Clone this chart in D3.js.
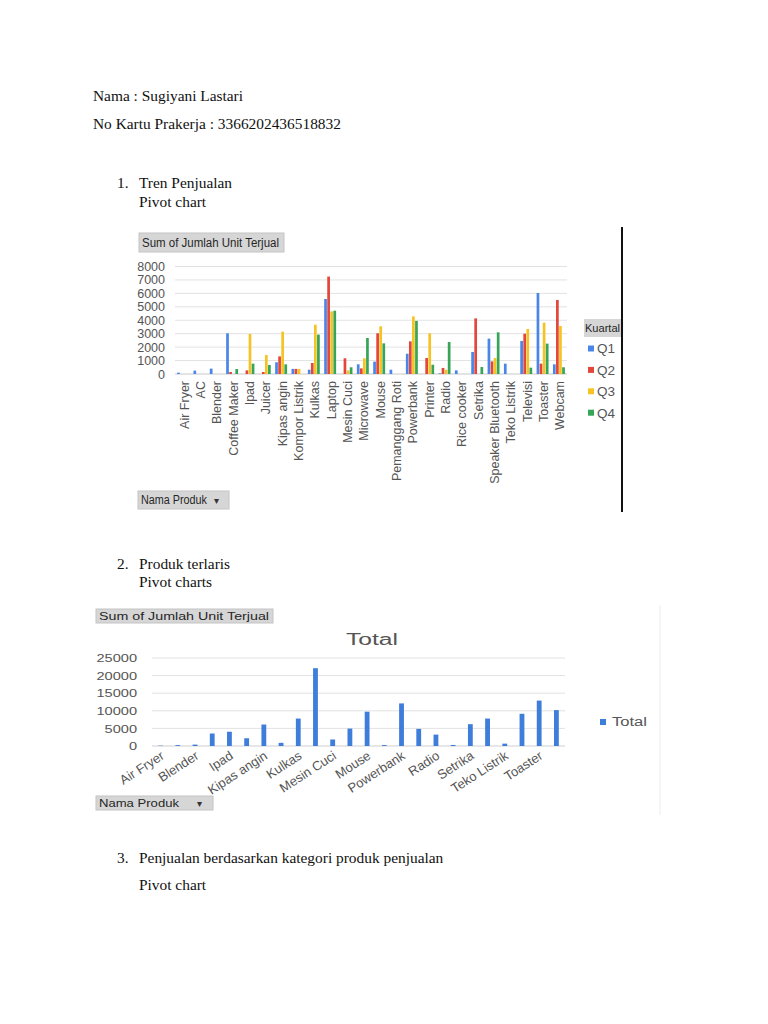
<!DOCTYPE html>
<html><head><meta charset="utf-8">
<script src="https://cdn.jsdelivr.net/npm/d3@7"></script>
<style>body{margin:0;background:#fff}svg{display:block}</style>
</head><body>
<script>
const products = ["Air Fryer","AC","Blender","Coffee Maker","Ipad","Juicer","Kipas angin","Kompor Listrik","Kulkas","Laptop","Mesin Cuci","Microwave","Mouse","Pemanggang Roti","Powerbank","Printer","Radio","Rice cooker","Setrika","Speaker Bluetooth","Teko Listrik","Televisi","Toaster","Webcam"];
const quarters = ["Q1","Q2","Q3","Q4"];
const q1 = [100,250,400,3030,0,0,870,380,320,5580,0,720,920,320,1510,0,50,270,1640,2630,770,2460,6030,720];
const q2 = [0,0,0,150,270,150,1310,380,820,7250,1170,420,3030,0,2430,1190,450,0,4140,940,0,3000,770,5510];
const q3 = [0,0,0,0,2980,1410,3150,380,3670,4660,270,1170,3550,0,4290,3030,320,0,0,1190,0,3350,3820,3570];
const q4 = [0,0,0,370,770,670,720,0,2930,4710,500,2680,2280,0,3950,690,2380,0,520,3100,0,470,2260,500];
const totals = [100,250,400,3550,4050,2200,6100,900,7800,22100,1850,4950,9750,250,12100,4860,3240,290,6200,7800,670,9150,12900,10200];
const ticks1 = [0,1000,2000,3000,4000,5000,6000,7000,8000];
const ticks2 = [0,5000,10000,15000,20000,25000];

const qColors = ["#4a86e8","#e3473b","#f6c325","#37a558"];
const serif = "'Liberation Serif','Times New Roman',serif";
const sans = "'Liberation Sans',Arial,sans-serif";

const svg = d3.select("body").append("svg").attr("width",768).attr("height",1024);
svg.append("rect").attr("width",768).attr("height",1024).attr("fill","#fff");

// document text
const doc = [
  {t:"Nama : Sugiyani Lastari", x:93, y:101},
  {t:"No Kartu Prakerja : 3366202436518832", x:93, y:129},
  {t:"1.", x:117, y:188}, {t:"Tren Penjualan", x:139, y:188}, {t:"Pivot chart", x:139, y:207},
  {t:"2.", x:117, y:569}, {t:"Produk terlaris", x:139, y:569}, {t:"Pivot charts", x:139, y:587},
  {t:"3.", x:117, y:863}, {t:"Penjualan berdasarkan kategori produk penjualan", x:139, y:863}, {t:"Pivot chart", x:139, y:890}
];
svg.selectAll("text.doc").data(doc).join("text").attr("class","doc")
  .attr("x",d=>d.x).attr("y",d=>d.y).text(d=>d.t)
  .attr("font-family",serif).attr("font-size",15.4).attr("fill","#111");

// ---------- Chart 1 ----------
const g1 = svg.append("g");
const x1 = d3.scaleBand().domain(products).range([175,567]).paddingInner(0.27).paddingOuter(0.13);
const xq = d3.scaleBand().domain(quarters).range([0,x1.bandwidth()]).paddingInner(0.12);
const y1 = d3.scaleLinear().domain([0,8000]).range([374,266.5]);

function button(g, x, y, w, h, label, tl, fs){
  g.append("rect").attr("x",x).attr("y",y).attr("width",w).attr("height",h)
    .attr("fill","#d6d6d6").attr("stroke","#c4c4c4");
  g.append("text").attr("x",x+3).attr("y",y+h/2).attr("dy","0.36em").text(label)
    .attr("font-family",sans).attr("font-size",fs).attr("fill","#262626")
    .attr("textLength",tl).attr("lengthAdjust","spacingAndGlyphs");
}
button(g1,139,233,145,19,"Sum of Jumlah Unit Terjual",137,12);

g1.append("g").selectAll("line").data(ticks1).join("line")
  .attr("x1",175).attr("x2",567).attr("y1",d=>y1(d)).attr("y2",d=>y1(d))
  .attr("stroke",(d)=>d===0?"#c8c8c8":"#e2e2e2").attr("stroke-width",1);
g1.append("g").selectAll("text").data(ticks1).join("text")
  .attr("x",165).attr("y",d=>y1(d)).attr("dy","0.36em").attr("text-anchor","end")
  .text(d=>d).attr("font-family",sans).attr("font-size",12.5).attr("fill","#555");

const series = [q1,q2,q3,q4];
quarters.forEach((q,qi)=>{
  g1.append("g").selectAll("rect").data(products).join("rect")
    .attr("x",(p)=>x1(p)+xq(q)).attr("width",xq.bandwidth())
    .attr("y",(p,i)=>y1(series[qi][i])).attr("height",(p,i)=>y1(0)-y1(series[qi][i]))
    .attr("fill",qColors[qi]);
});
g1.append("g").selectAll("text").data(products).join("text")
  .attr("transform",p=>`translate(${x1(p)+x1.bandwidth()/2+1},381) rotate(-90)`)
  .attr("dy","0.36em").attr("text-anchor","end").text(p=>p)
  .attr("font-family",sans).attr("font-size",12.5).attr("fill","#555");

// legend chart 1
g1.append("rect").attr("x",584).attr("y",319).attr("width",37).attr("height",18).attr("fill","#d6d6d6");
g1.append("text").attr("x",585).attr("y",328).attr("dy","0.36em").text("Kuartal")
  .attr("font-family",sans).attr("font-size",11).attr("fill","#262626")
  .attr("textLength",35).attr("lengthAdjust","spacingAndGlyphs");
const leg1 = g1.append("g").selectAll("g").data(quarters).join("g")
  .attr("transform",(d,i)=>`translate(588,${348.5+i*21.4})`);
leg1.append("rect").attr("x",0).attr("y",-3).attr("width",6).attr("height",6).attr("fill",(d,i)=>qColors[i]);
leg1.append("text").attr("x",9).attr("dy","0.36em").text(d=>d)
  .attr("font-family",sans).attr("font-size",13.5).attr("fill","#555");

button(g1,138,491,91,18,"Nama Produk",66,12);
g1.append("text").attr("x",214).attr("y",500).attr("dy","0.36em").text("▾")
  .attr("font-family",sans).attr("font-size",10).attr("fill","#333");
g1.append("line").attr("x1",622).attr("x2",622).attr("y1",227).attr("y2",512)
  .attr("stroke","#111").attr("stroke-width",2);

// ---------- Chart 2 ----------
const g2 = svg.append("g");
g2.append("line").attr("x1",660).attr("x2",660).attr("y1",605).attr("y2",815).attr("stroke","#ececec");
const x2 = d3.scaleBand().domain(products).range([152,565]).paddingInner(0.72).paddingOuter(0.36);
const y2 = d3.scaleLinear().domain([0,25000]).range([746,658]);

button(g2,96,609,177,14,"Sum of Jumlah Unit Terjual",170,10.5);
g2.append("text").attr("x",372).attr("y",639).attr("dy","0.36em").attr("text-anchor","middle")
  .text("Total").attr("font-family",sans).attr("font-size",16).attr("fill","#555")
  .attr("textLength",52).attr("lengthAdjust","spacingAndGlyphs");

g2.append("g").selectAll("line").data(ticks2).join("line")
  .attr("x1",152).attr("x2",565).attr("y1",d=>y2(d)).attr("y2",d=>y2(d))
  .attr("stroke",d=>d===0?"#cfcfcf":"#e2e2e2");
g2.append("g").selectAll("text").data(ticks2).join("text")
  .attr("x",137).attr("y",d=>y2(d)).attr("dy","0.36em").attr("text-anchor","end")
  .text(d=>d).attr("font-family",sans).attr("font-size",11.5).attr("fill","#555")
  .attr("textLength",d=>String(d).length*8.1).attr("lengthAdjust","spacingAndGlyphs");

g2.append("g").selectAll("rect").data(products).join("rect")
  .attr("x",p=>x2(p)).attr("width",x2.bandwidth())
  .attr("y",(p,i)=>y2(totals[i])).attr("height",(p,i)=>y2(0)-y2(totals[i]))
  .attr("fill","#3f7ddb");

g2.append("g").selectAll("text").data(products.filter((p,i)=>i%2===0)).join("text")
  .attr("transform",p=>`translate(${x2(p)+x2.bandwidth()/2+2},754) rotate(-33)`)
  .attr("dy","0.36em").attr("text-anchor","end").text(p=>p)
  .attr("font-family",sans).attr("font-size",13).attr("fill","#555");

g2.append("rect").attr("x",600).attr("y",719).attr("width",6).attr("height",6).attr("fill","#3f7ddb");
g2.append("text").attr("x",612).attr("y",722).attr("dy","0.36em").text("Total")
  .attr("font-family",sans).attr("font-size",12).attr("fill","#555")
  .attr("textLength",35).attr("lengthAdjust","spacingAndGlyphs");

button(g2,96,796,117,14,"Nama Produk",80,10.5);
g2.append("text").attr("x",197).attr("y",803).attr("dy","0.36em").text("▾")
  .attr("font-family",sans).attr("font-size",10).attr("fill","#333");
</script>
</body></html>
